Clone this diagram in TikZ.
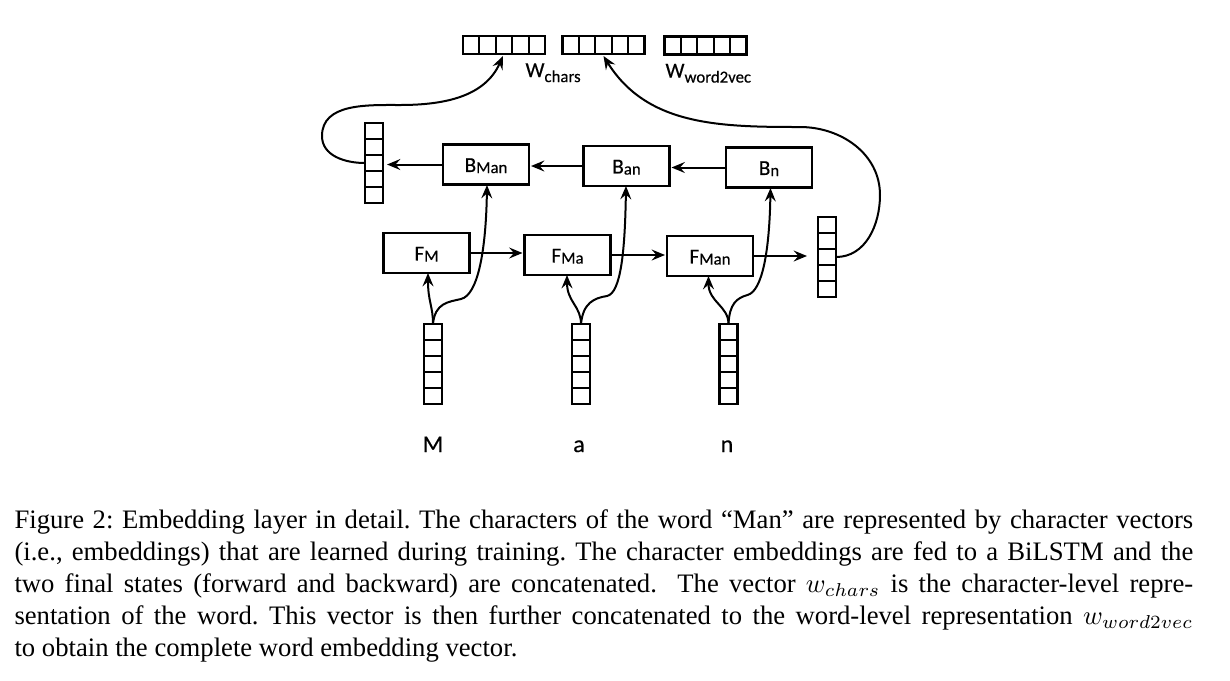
\documentclass[tikz,border=0pt]{standalone}
\usepackage{fontspec}
\setmainfont{Liberation Serif}
\newfontfamily\carl{Carlito}[FakeBold=0.4]
\usetikzlibrary{arrows.meta,calc}
\newlength\pu
\setlength\pu{0.375pt}
\frenchspacing
\begin{document}
\begin{tikzpicture}[x=0.375pt,y=-0.375pt,
  box/.style={draw,line width=0.9pt,minimum width=86\pu,minimum height=40\pu,inner sep=0,outer sep=0,text height=6.6pt,text depth=1pt,font=\carl\fontsize{8}{9}\selectfont},
  vvec/.style={draw,line width=0.8pt,minimum width=18\pu,minimum height=80\pu,inner sep=0,outer sep=0},
  hvec/.style={draw,line width=0.8pt,minimum width=82\pu,minimum height=18\pu,inner sep=0,outer sep=0},
  conn/.style={line width=0.75pt,-{Stealth[length=5pt,width=4.1pt,inset=1.8pt]}},
  lbl/.style={inner sep=0,font=\carl\fontsize{9}{10}\selectfont},
  wlbl/.style={inner sep=0,font=\carl\fontsize{8}{9}\selectfont}]
\useasboundingbox (0,0) rectangle (1230,680);
\newcommand\sbs[1]{\raisebox{-0.4pt}{\fontsize{6.3}{7}\selectfont #1}}
\newcommand\wsbs[1]{\raisebox{-1.9pt}{\fontsize{6.3}{7}\selectfont #1}}
% top vectors
\node[hvec] (t1) at (504,45) {};
\node[hvec] (t2) at (603.5,45) {};
\node[hvec] (t3) at (705.5,45.5) {};
\foreach \n in {t1,t2,t3}
  \foreach \i in {1,...,4}
    \draw[line width=0.8pt] ($(\n.north west)!\i/5!(\n.north east)$) -- ($(\n.south west)!\i/5!(\n.south east)$);
\node[wlbl,anchor=base west] (wc) at (525,77) {W\wsbs{chars}};
\node[wlbl,anchor=base west] (ww) at (665,77.5) {W\wsbs{word2vec}};
% vertical vectors
\node[vvec] (vL) at (374,163) {};
\node[vvec] (vR) at (827,257) {};
\node[vvec] (b1) at (433,364) {};
\node[vvec] (b2) at (581,364) {};
\node[vvec] (b3) at (728.5,364) {};
\foreach \n in {vL,vR,b1,b2,b3}
  \foreach \i in {1,...,4}
    \draw[line width=0.8pt] ($(\n.north west)!\i/5!(\n.south west)$) -- ($(\n.north east)!\i/5!(\n.south east)$);
% boxes
\node[box] (BMan) at (486,164.5) {B\sbs{Man}};
\node[box] (Ban) at (626.5,166) {B\sbs{an}};
\node[box] (Bn) at (769,167.5) {B\sbs{n}};
\node[box] (FM) at (426.5,253) {F\sbs{M}};
\node[box] (FMa) at (567.5,255) {F\sbs{Ma}};
\node[box] (FMan) at (710,256) {F\sbs{Man}};
% character labels
\node[lbl,anchor=base] (lM) at (433,452) {M};
\node[lbl,anchor=base] (la) at (579,452) {a};
\node[lbl,anchor=base] (ln) at (727,452) {n};
% horizontal arrows
\draw[conn,shorten >=4\pu] (BMan.west) -- (vL.east |- BMan.west);
\draw[conn,shorten >=2\pu] (Ban.west) -- (BMan.east |- Ban.west);
\draw[conn,shorten >=2\pu] (Bn.west) -- (Ban.east |- Bn.west);
\draw[conn,shorten >=2\pu] (FM.east) -- (FMa.west |- FM.east);
\draw[conn,shorten >=2\pu] (FMa.east) -- (FMan.west |- FMa.east);
\draw[conn,shorten >=11\pu] (FMan.east) -- (vR.west |- FMan.east);
% branches from character vectors
\draw[conn] (b1.north) .. controls ($(b1.north)+(0,-18)$) and ($(b1.north)+(-5,-22)$) .. ($(b1.north)+(-5,-51)$);
\draw[conn] (b1.north) .. controls ($(b1.north)+(2,-21)$) and ($(b1.north)+(15,-22)$) .. ($(b1.north)+(28,-25)$)
   .. controls ($(b1.north)+(45,-29)$) and ($(b1.north)+(53,-74)$) .. ($(b1.north)+(54,-139)$);
\draw[conn] (b2.north) .. controls ($(b2.north)+(0,-18)$) and ($(b2.north)+(-14,-22)$) .. ($(b2.north)+(-14,-49)$);
\draw[conn] (b2.north) .. controls ($(b2.north)+(2,-21)$) and ($(b2.north)+(13,-26)$) .. ($(b2.north)+(26,-28)$)
   .. controls ($(b2.north)+(40,-31)$) and ($(b2.north)+(44,-74)$) .. ($(b2.north)+(45,-138)$);
\draw[conn] (b3.north) .. controls ($(b3.north)+(0,-18)$) and ($(b3.north)+(-20,-22)$) .. ($(b3.north)+(-20,-48)$);
\draw[conn] (b3.north) .. controls ($(b3.north)+(1,-20)$) and ($(b3.north)+(8,-26)$) .. ($(b3.north)+(19,-29)$)
   .. controls ($(b3.north)+(34,-33)$) and ($(b3.north)+(41,-74)$) .. ($(b3.north)+(42,-136)$);
% final-state curves
\coordinate (lA) at (322,136);
\coordinate (lB) at (400,105);
\draw[conn] (vL.west) to[out=180,in=-90] (lA) to[out=90,in=180] (lB) to[out=0,in=-114] ($(t1.south)+(-1,2)$);
\coordinate (rA) at (880,195);
\coordinate (rB) at (800,127);
\draw[conn] (vR.east) to[out=0,in=-90] (rA) to[out=90,in=0] (rB) to[out=180,in=-58] ($(t2.south)+(0,2)$);
% caption
\node[anchor=north west,inner sep=0,align=left,font=\fontsize{10}{12}\selectfont] (cap) at (14,508.8) {%
\makebox[442pt][s]{Figure 2: Embedding layer in detail. The characters of the word “Man” are represented by character vectors}\\
\makebox[442pt][s]{(i.e., embeddings) that are learned during training. The character embeddings are fed to a BiLSTM and the}\\
\makebox[442pt][s]{two final states (forward and backward) are concatenated.\ \ The vector $w_{chars}$ is the character-level repre-}\\
\makebox[442pt][s]{sentation of the word. This vector is then further concatenated to the word-level representation $w_{word2vec}$}\\
to obtain the complete word embedding vector.};
\end{tikzpicture}
\end{document}
